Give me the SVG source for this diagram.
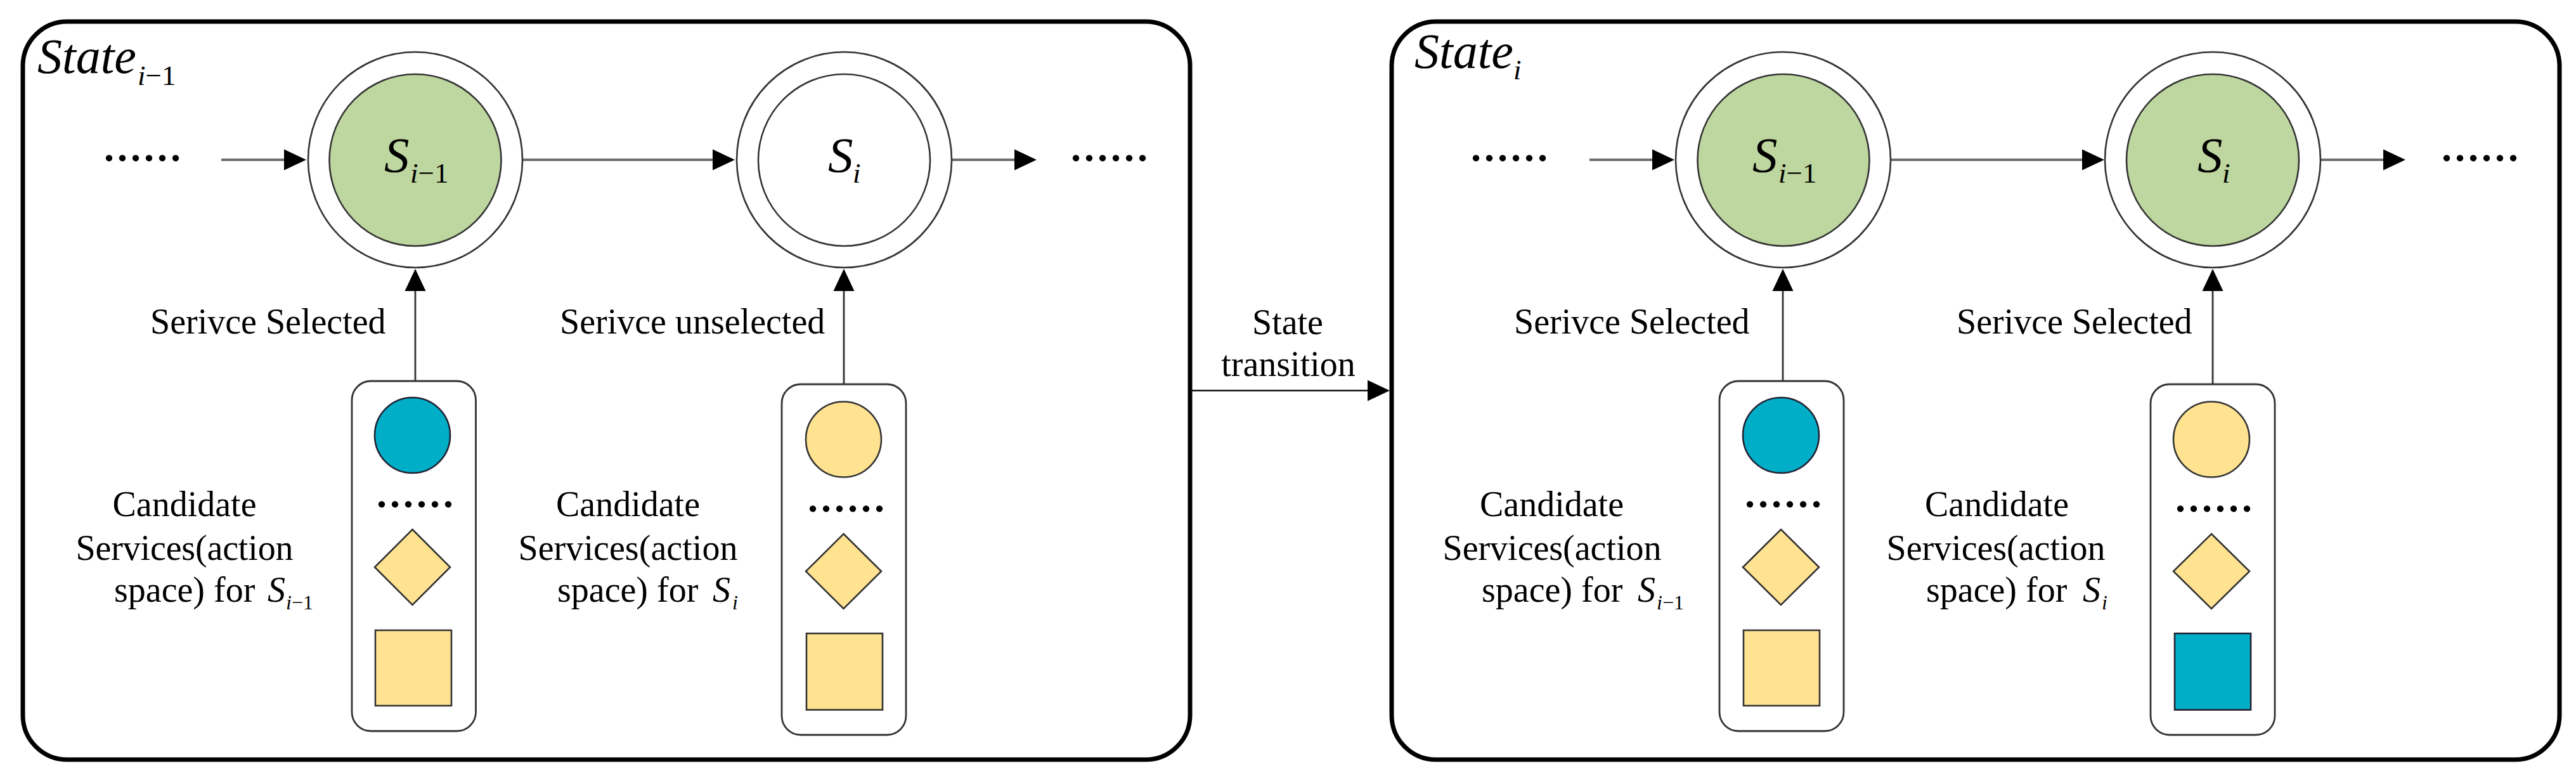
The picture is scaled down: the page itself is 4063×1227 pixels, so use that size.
<svg xmlns="http://www.w3.org/2000/svg" width="4063" height="1227" viewBox="0 0 4063 1227">
<style>
text{font-family:"Liberation Serif","Times New Roman",serif;fill:#000}
.t{font-size:56px}
.m{text-anchor:middle}
.it{font-style:italic}
.sl{font-size:79px;font-style:italic}
.ss{font-size:45px}
.sm{font-size:32px}
.dots{font-size:64px;letter-spacing:5px;font-weight:bold}
.frame{fill:#fff;stroke:#000;stroke-width:7}
.ring{fill:#fff;stroke:#333;stroke-width:2.6}
.green{fill:#BED69F;stroke:#333;stroke-width:2.6}
.box{fill:#fff;stroke:#333;stroke-width:2.8}
.y{fill:#FFE391;stroke:#333;stroke-width:2.6}
.b{fill:#00AEC7;stroke:#223;stroke-width:2.6}
.h{fill:none;stroke:#6e6e6e;stroke-width:4;marker-end:url(#ah)}
.v{fill:none;stroke:#333;stroke-width:2.8;marker-end:url(#ah)}
.tr{fill:none;stroke:#111;stroke-width:2.6;marker-end:url(#ah)}
</style>
<defs>
<marker id="ah" markerUnits="userSpaceOnUse" markerWidth="36" markerHeight="34" refX="25" refY="17" orient="auto"><path d="M0 0.5L35 17L0 33.5Z" fill="#000"/></marker>
</defs>
<rect width="4063" height="1227" fill="#fff"/>
<g id="state-prev">
<rect class="frame" x="36" y="34" width="1841" height="1164" rx="70" ry="70"/>
<text x="59" y="115" class="sl" style="font-size:78px">State<tspan class="ss" x="217" y="134">i</tspan><tspan class="ss" style="font-style:normal">−1</tspan></text>
</g>
<g id="state-cur">
<rect class="frame" x="2195" y="34" width="1842" height="1164" rx="70" ry="70"/>
<text x="2231" y="107" class="sl" style="font-size:78px">State<tspan class="ss" x="2387" y="125">i</tspan></text>
</g>
<g id="connectors">
<path class="h" d="M349 252H473"/>
<path class="h" d="M824 252H1149"/>
<path class="h" d="M1501 252H1625"/>
<path class="h" d="M2507 252H2631"/>
<path class="h" d="M2982 252H3309"/>
<path class="h" d="M3660 252H3784"/>
<path class="v" d="M655 601V434"/>
<path class="v" d="M1331 606V434"/>
<path class="v" d="M2812 601V434"/>
<path class="v" d="M3490 606V434"/>
<path class="tr" d="M1877 616H2182"/>
</g>
<g id="s1-prev">
<ellipse class="ring" cx="655" cy="252" rx="169" ry="170"/>
<ellipse class="green" cx="655" cy="252.500" rx="135.500" ry="135.500"/>
<text x="606" y="271" class="sl">S<tspan class="ss" x="647" y="288">i</tspan><tspan class="ss" style="font-style:normal">−1</tspan></text>
</g>
<g id="s1-cur">
<ellipse class="ring" cx="1331.500" cy="252" rx="169.500" ry="170"/>
<ellipse class="ring" cx="1331.500" cy="252.500" rx="135.500" ry="135.500"/>
<text x="1306" y="271" class="sl">S<tspan class="ss" x="1345" y="288">i</tspan></text>
</g>
<g id="s2-prev">
<ellipse class="ring" cx="2812.500" cy="252" rx="169.500" ry="170"/>
<ellipse class="green" cx="2813" cy="252.500" rx="135.500" ry="135.500"/>
<text x="2764" y="271" class="sl">S<tspan class="ss" x="2805" y="288">i</tspan><tspan class="ss" style="font-style:normal">−1</tspan></text>
</g>
<g id="s2-cur">
<ellipse class="ring" cx="3490" cy="252" rx="170" ry="170"/>
<ellipse class="green" cx="3490" cy="252.500" rx="136" ry="135.500"/>
<text x="3466" y="271" class="sl">S<tspan class="ss" x="3505" y="288">i</tspan></text>
</g>
<g id="dots-top">
<text class="dots" x="164" y="254">......</text>
<text class="dots" x="1689" y="254">......</text>
<text class="dots" x="2320" y="254">......</text>
<text class="dots" x="3851" y="254">......</text>
</g>
<g id="edge-labels">
<text class="t" x="237" y="526">Serivce Selected</text>
<text class="t" x="883" y="526">Serivce unselected</text>
<text class="t" x="2388" y="526">Serivce Selected</text>
<text class="t" x="3086" y="526">Serivce Selected</text>
<text class="t m" x="2031" y="527">State</text>
<text class="t m" x="2032" y="593">transition</text>
</g>
<g id="candidates-1">
<rect class="box" x="555" y="601" width="195.500" height="552" rx="30" ry="30"/>
<ellipse class="b" cx="650.500" cy="686.500" rx="59.500" ry="59.500"/>
<text class="dots" x="594" y="800">......</text>
<path class="y" d="M650.500 835L710 894.500L650.500 954L591 894.500Z"/>
<rect class="y" x="592" y="994" width="120" height="119"/>
<text class="t m" x="291" y="814">Candidate</text>
<text class="t m" x="291" y="883" textLength="343">Services(action</text>
<text class="t" x="180" y="949">space) for</text>
<text class="t it" x="422" y="949">S<tspan class="sm" x="451" y="961">i</tspan><tspan class="sm" style="font-style:normal">−1</tspan></text>
</g>
<g id="candidates-2">
<rect class="box" x="1233" y="606" width="196" height="553" rx="30" ry="30"/>
<ellipse class="y" cx="1330.500" cy="693" rx="59.500" ry="59.500"/>
<text class="dots" x="1274" y="807">......</text>
<path class="y" d="M1330.500 842L1390 901L1330.500 960L1271 901Z"/>
<rect class="y" x="1272" y="999" width="120" height="120.500"/>
<text class="t m" x="990.500" y="814">Candidate</text>
<text class="t m" x="990.500" y="883" textLength="346">Services(action</text>
<text class="t" x="879" y="949">space) for</text>
<text class="t it" x="1124" y="949">S<tspan class="sm" x="1155" y="961">i</tspan></text>
</g>
<g id="candidates-3">
<rect class="box" x="2712" y="601" width="196" height="552" rx="30" ry="30"/>
<ellipse class="b" cx="2809" cy="686.500" rx="60" ry="59.500"/>
<text class="dots" x="2752" y="800">......</text>
<path class="y" d="M2809 835L2869 894.500L2809 954L2749 894.500Z"/>
<rect class="y" x="2750" y="994" width="120" height="119"/>
<text class="t m" x="2447.500" y="814">Candidate</text>
<text class="t m" x="2448" y="883" textLength="345">Services(action</text>
<text class="t" x="2337" y="949">space) for</text>
<text class="t it" x="2583" y="949">S<tspan class="sm" x="2613" y="961">i</tspan><tspan class="sm" style="font-style:normal">−1</tspan></text>
</g>
<g id="candidates-4">
<rect class="box" x="3392" y="606" width="196" height="553" rx="30" ry="30"/>
<ellipse class="y" cx="3488" cy="693" rx="60" ry="59.500"/>
<text class="dots" x="3431" y="807">......</text>
<path class="y" d="M3488 842L3548 901L3488 960L3428 901Z"/>
<rect class="y b" x="3430" y="999" width="120" height="120.500"/>
<text class="t m" x="3149.500" y="814">Candidate</text>
<text class="t m" x="3148" y="883" textLength="345">Services(action</text>
<text class="t" x="3038" y="949">space) for</text>
<text class="t it" x="3285" y="949">S<tspan class="sm" x="3315" y="961">i</tspan></text>
</g>
</svg>
